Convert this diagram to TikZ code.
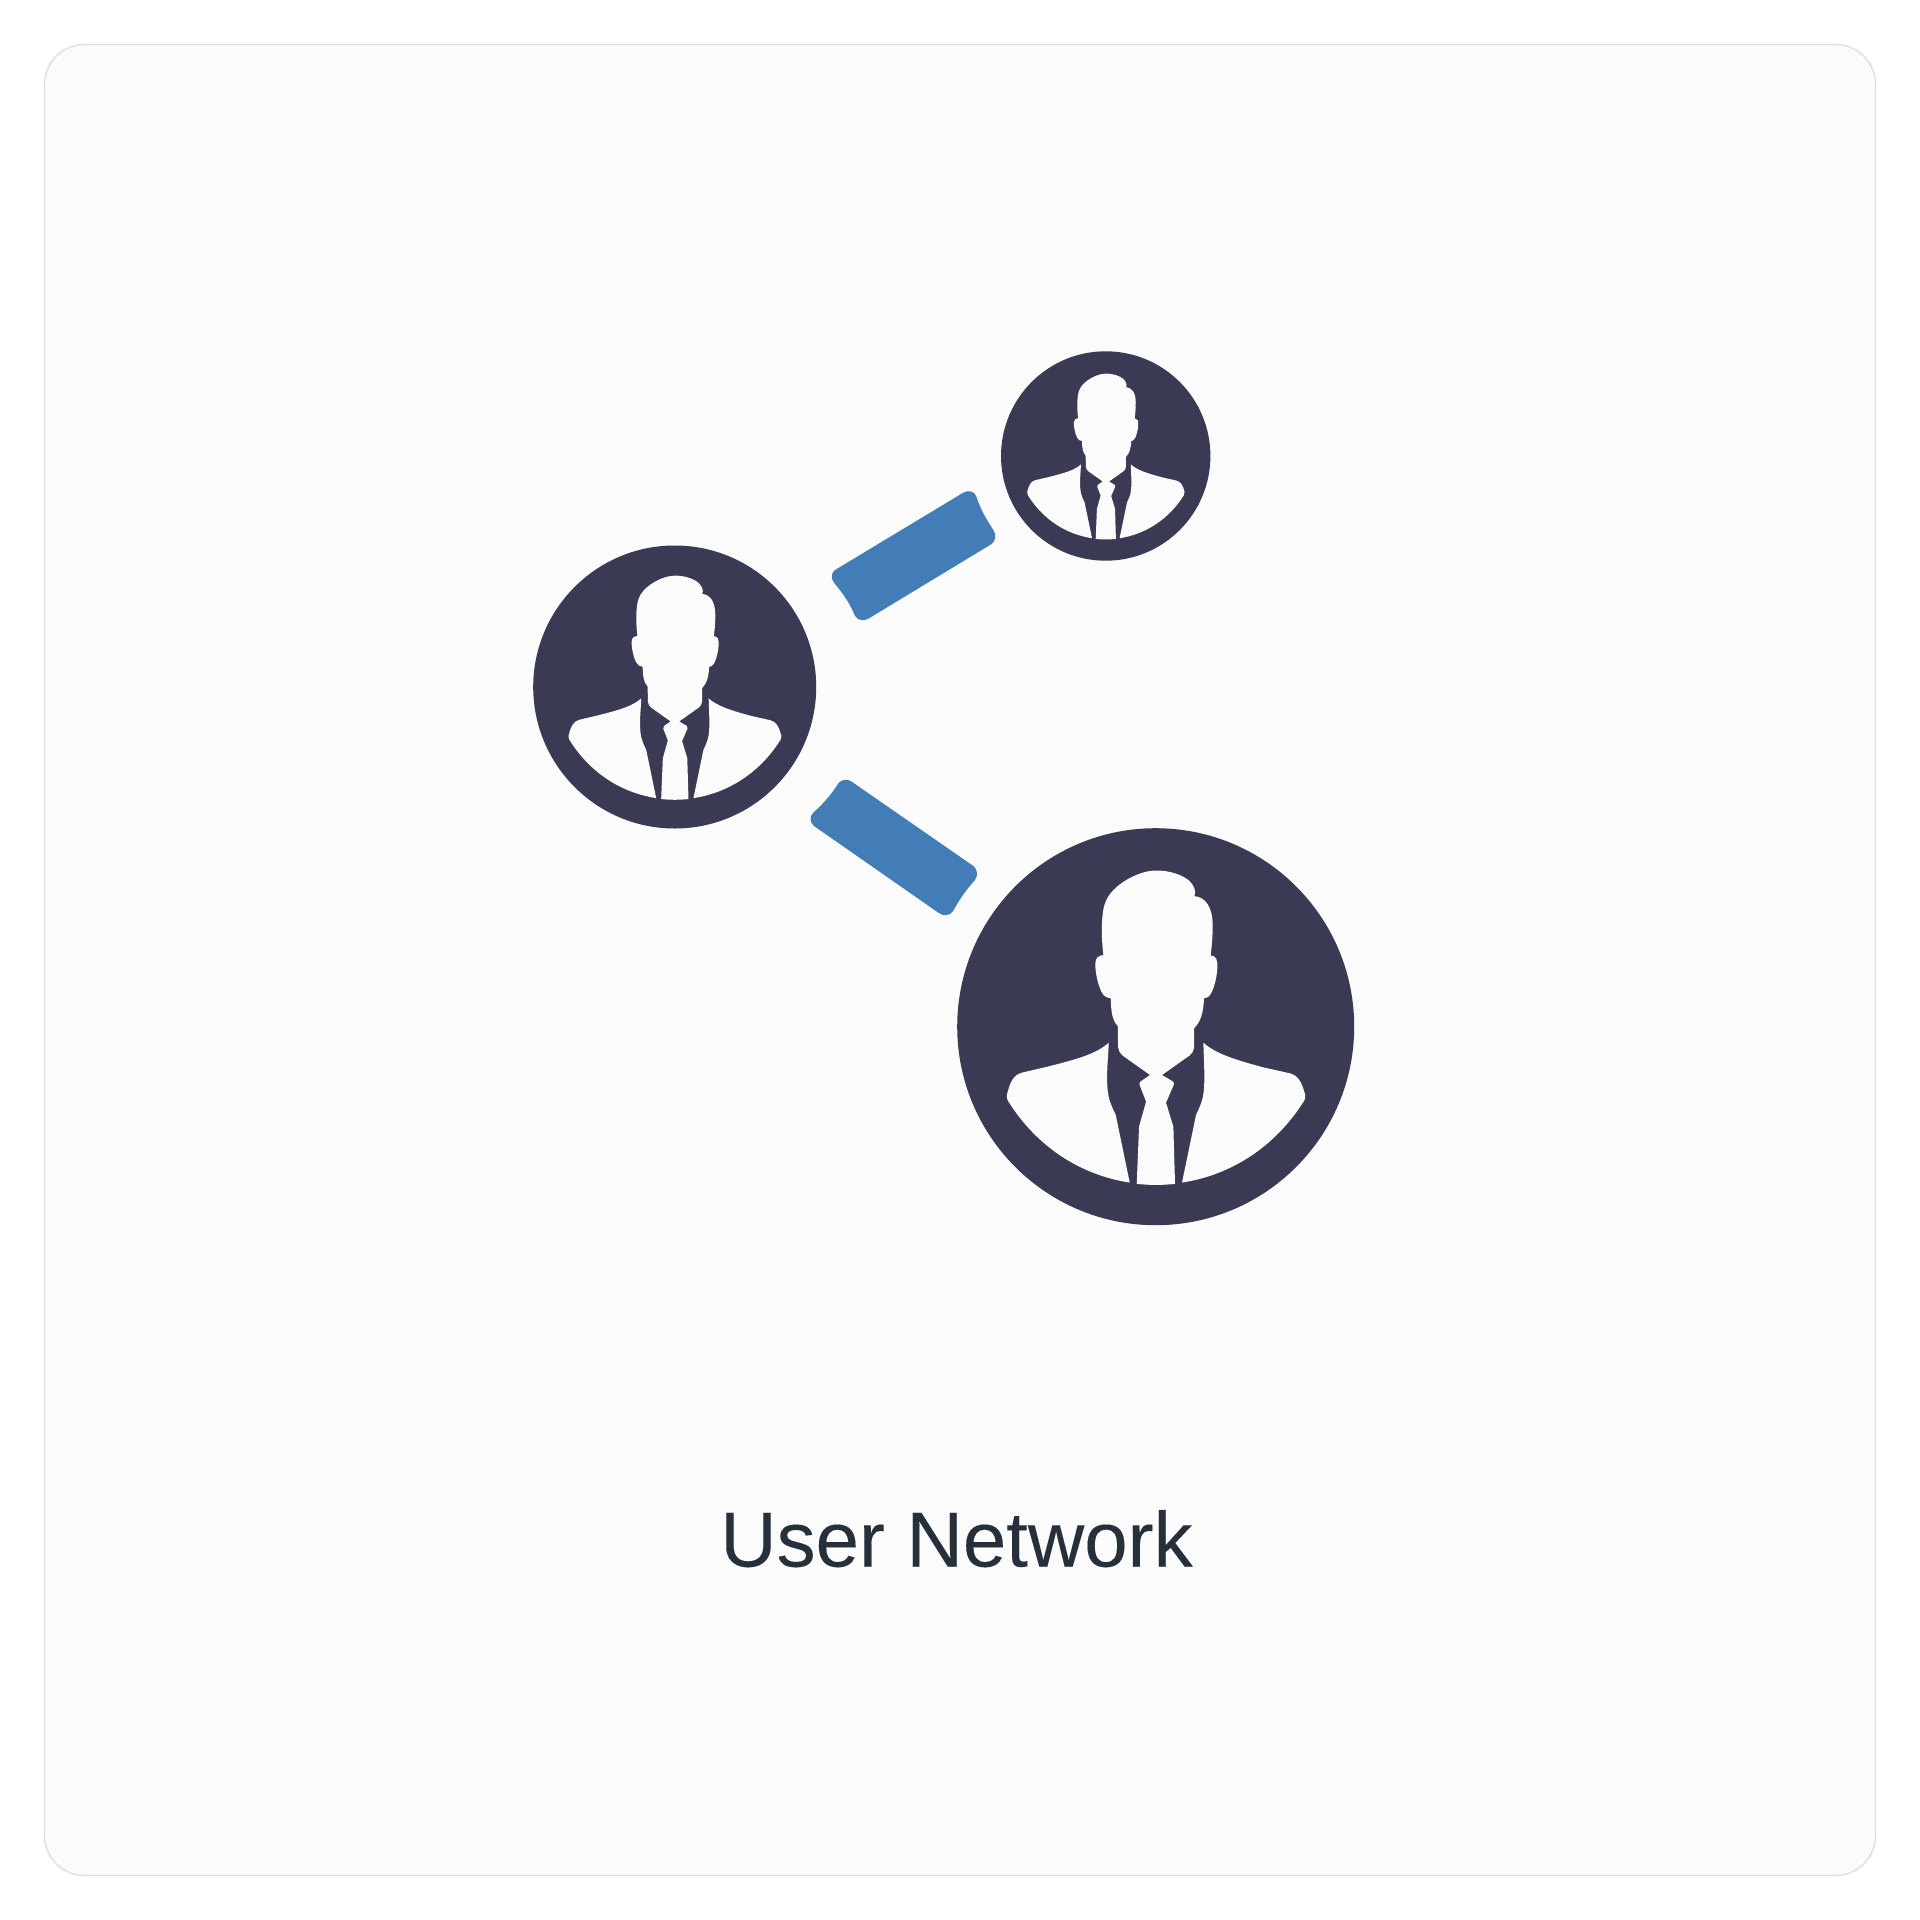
\documentclass[tikz,border=0pt]{standalone}
\usepackage{fontspec}
\setmainfont{Liberation Sans}[FakeBold=0.12]
\definecolor{panelbg}{HTML}{FBFBFB}
\definecolor{panelline}{HTML}{E0E0E0}
\definecolor{avatar}{HTML}{3B3A54}
\definecolor{linkblue}{HTML}{427DB8}
\definecolor{titleink}{HTML}{25303B}
\newcommand{\personshape}{%
  % head, neck and tie
  \fill[cutout] (490,435) .. controls (484,390) and (484,340) .. (488,310)
    .. controls (492,270) and (510,245) .. (540,222)
    .. controls (570,200) and (610,181) .. (650,181)
    .. controls (685,181) and (725,192) .. (748,212)
    .. controls (762,226) and (770,245) .. (763,258)
    .. controls (795,260) and (818,290) .. (818,345)
    .. controls (818,385) and (815,410) .. (812,436)
    .. controls (828,436) and (834,450) .. (832,475)
    .. controls (830,505) and (822,535) .. (812,552)
    .. controls (806,562) and (798,564) .. (792,565)
    .. controls (790,610) and (782,635) .. (762,655)
    -- (762,712) .. controls (760,725) and (755,732) .. (748,737)
    -- (666,795) -- (698,814) .. controls (702,817) and (703,821) .. (701,825)
    -- (678,878) -- (700,950) -- (705,1122)
    .. controls (668,1126) and (628,1126) .. (590,1122)
    -- (597,950) -- (618,875) -- (599,826) .. controls (597,821) and (598,817) .. (602,814)
    -- (630,795)
    -- (548,737) .. controls (540,730) and (535,722) .. (534,712)
    -- (533,648) .. controls (515,630) and (513,600) .. (512,565)
    .. controls (500,563) and (490,558) .. (484,545)
    .. controls (472,520) and (464,480) .. (466,458)
    .. controls (467,442) and (476,436) .. (490,435) -- cycle;
  % left lapel
  \fill[cutout] (506,698) .. controls (470,730) and (420,745) .. (330,768)
    -- (245,788) .. controls (220,795) and (210,815) .. (200,855)
    .. controls (199,865) and (202,870) .. (205,875)
    .. controls (290,1010) and (420,1095) .. (569,1118)
    -- (527,915) .. controls (508,875) and (501,860) .. (501,800)
    .. controls (501,770) and (505,730) .. (506,698) -- cycle;
  % right lapel
  \fill[cutout] (790,698) .. controls (826,730) and (880,748) .. (970,772)
    -- (1050,790) .. controls (1075,797) and (1085,815) .. (1096,855)
    .. controls (1097,865) and (1094,870) .. (1091,875)
    .. controls (1005,1010) and (875,1095) .. (726,1118)
    -- (768,915) .. controls (787,875) and (793,860) .. (793,800)
    .. controls (793,770) and (791,730) .. (790,698) -- cycle;
}
\tikzset{
  panel/.style={fill=panelbg,draw=panelline,line width=0.7pt,rounded corners=20pt},
  avatarbig/.style={circle,fill=avatar,inner sep=0pt,outer sep=0pt,minimum size=198.5pt},
  avatarmid/.style={circle,fill=avatar,inner sep=0pt,outer sep=0pt,minimum size=141.5pt},
  avatarsmall/.style={circle,fill=avatar,inner sep=0pt,outer sep=0pt,minimum size=104.7pt},
  cutout/.style={fill=panelbg},
  linkshape/.style={fill=linkblue},
  titletext/.style={text=titleink,font=\fontsize{39pt}{47pt}\selectfont,anchor=base,inner sep=0pt}
}
\begin{document}
\begin{tikzpicture}[x=0.5pt,y=-0.5pt]
\useasboundingbox (0,0) rectangle (1920,1920);
\fill[white] (0,0) rectangle (1920,1920);
\draw[panel] (44.5,44.5) rectangle (1875.5,1875.5);
\node[avatarmid] (left) at (674.7,687) {};
\node[avatarsmall] (top) at (1105.7,456) {};
\node[avatarbig] (big) at (1155.7,1026.7) {};
\begin{scope}[shift={(674.7,687)},scale=0.2374,shift={(-647,-650)}]\personshape\end{scope}
\begin{scope}[shift={(1105.7,456)},scale=0.1757,shift={(-647,-650)}]\personshape\end{scope}
\begin{scope}[shift={(1155.7,1026.7)},scale=0.33305,shift={(-647,-650)}]\personshape\end{scope}
\begin{scope}[shift={(780,470)},scale=0.33333]
\fill[linkshape] (165,300) -- (550,68) .. controls (568,58) and (585,65) .. (590,82)
  .. controls (600,115) and (620,150) .. (640,180)
  .. controls (650,195) and (647,212) .. (635,222)
  -- (270,443) .. controls (252,455) and (232,452) .. (224,436)
  .. controls (210,400) and (190,372) .. (162,338)
  .. controls (152,325) and (153,309) .. (165,300) -- cycle;
\fill[linkshape] (215,935) -- (580,1188) .. controls (592,1197) and (595,1217) .. (585,1230)
  .. controls (560,1258) and (540,1285) .. (520,1322)
  .. controls (510,1338) and (490,1340) .. (475,1328)
  -- (102,1068) .. controls (90,1058) and (87,1040) .. (100,1028)
  .. controls (125,1005) and (150,980) .. (175,940)
  .. controls (185,928) and (202,926) .. (215,935) -- cycle;
\end{scope}
\node[titletext] (title) at (956.5,1566.5) {User Network};
\end{tikzpicture}
\end{document}
